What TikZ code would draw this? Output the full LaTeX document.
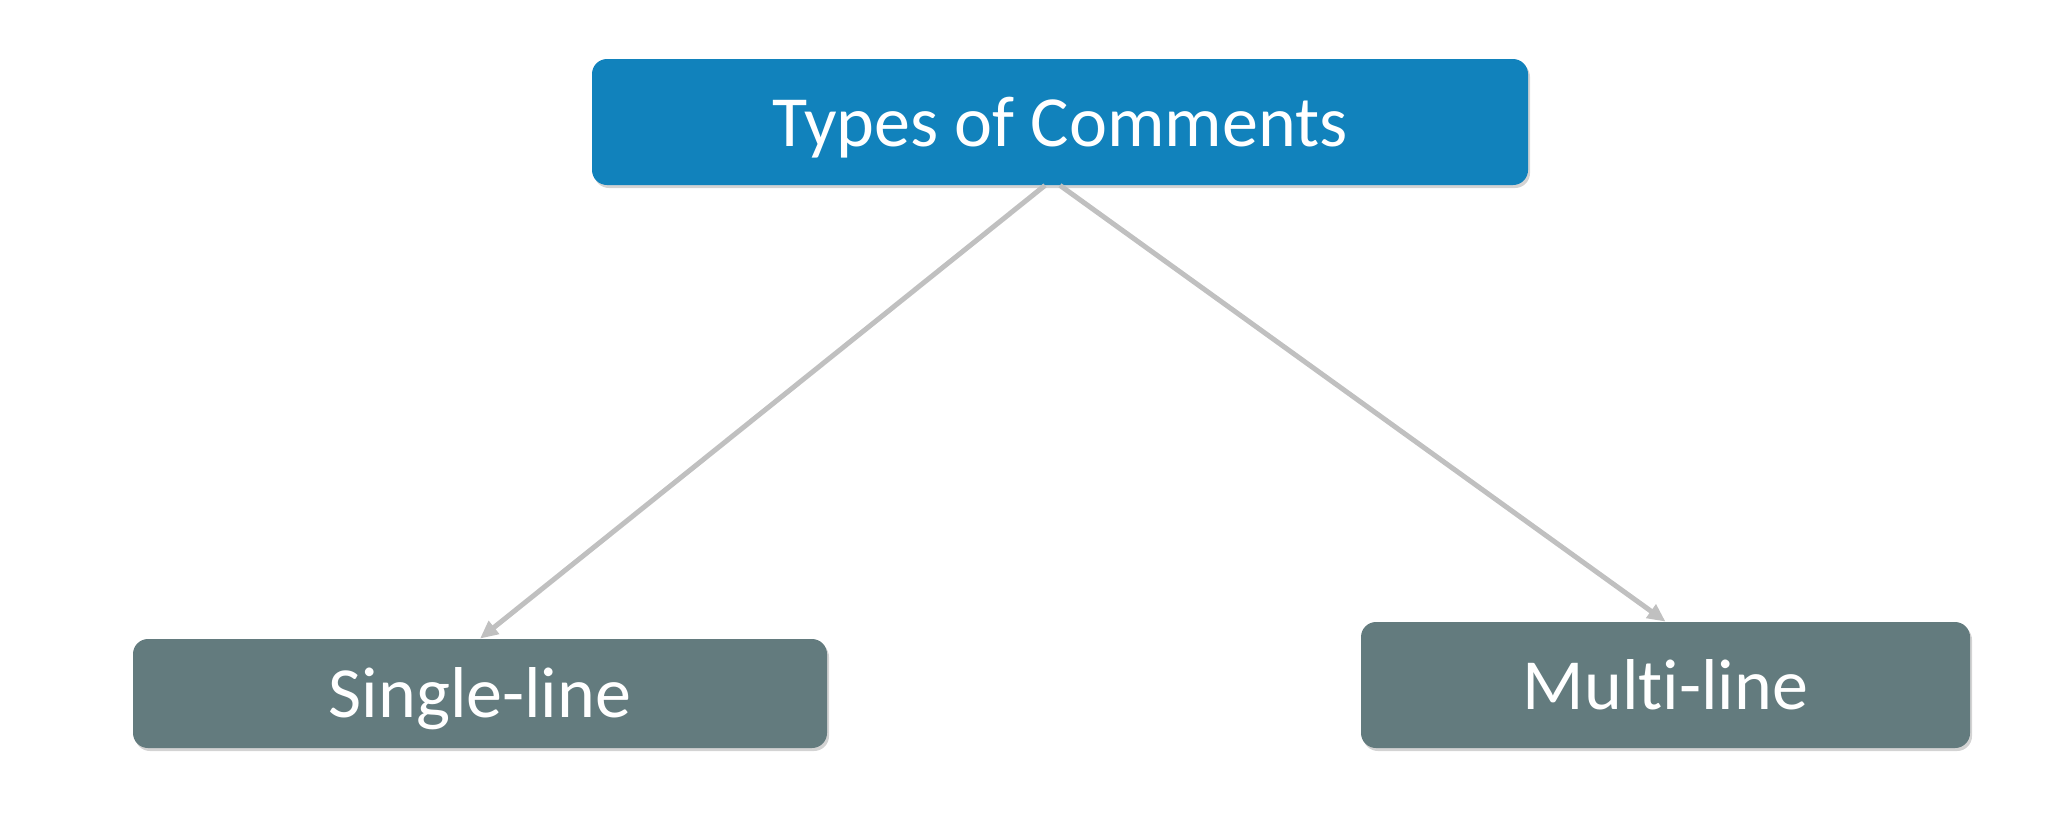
\documentclass[tikz,border=0pt]{standalone}
\usepackage{fontspec}
\usepackage{tikz}
\setmainfont{Carlito}[Ligatures={NoCommon,NoDiscretionary}]
\usetikzlibrary{arrows.meta,shadows}
\definecolor{MyBlue}{HTML}{1182BC}
\definecolor{MyGray}{HTML}{637B7E}
\definecolor{MyArrow}{HTML}{C0C0C0}
\tikzset{
  box/.style={rounded corners=7.5pt, text=white, inner sep=0pt,
    font=\fontsize{36}{40}\selectfont,
    drop shadow={shadow xshift=1pt, shadow yshift=-1.5pt, opacity=0.35}},
  link/.style={line width=2.5pt, MyArrow, -{Triangle[length=9pt,width=8pt]}}
}
\begin{document}
\begin{tikzpicture}[x=0.5pt,y=-0.5pt]
                \useasboundingbox (0,0) rectangle (2048,821);
                \node[box, fill=MyBlue, minimum width=468pt, minimum height=63pt] (types) at (1060,122) {\raisebox{-3pt}[\height][\depth]{Types of Comments}};
                \node[box, fill=MyGray, minimum width=347pt, minimum height=54.5pt] (single) at (480,693.5) {\raisebox{-2.5pt}[\height][\depth]{Single-line}};
                \node[box, fill=MyGray, minimum width=304.5pt, minimum height=63pt] (multi) at (1665.5,685) {Multi-line};

                \draw[link] ([xshift=-7.5pt]types.south) -- (single.north);
                \draw[link] (types.south) -- (multi.north);
            \end{tikzpicture}
\end{document}
